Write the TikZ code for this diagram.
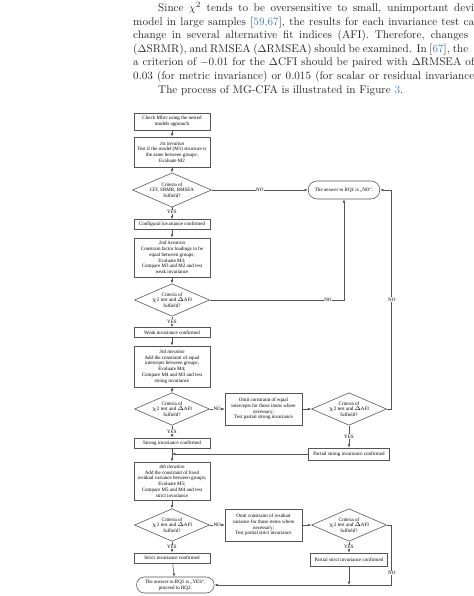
\documentclass[tikz,border=0pt]{standalone}
\usepackage{fontspec}
\usetikzlibrary{positioning,shapes.geometric,shapes.misc,arrows.meta}

\newfontfamily\flowrm{Liberation Serif}
\definecolor{citeblue}{RGB}{66,126,196}
\definecolor{flowgray}{RGB}{85,85,85}
\newcommand{\flowfont}{\flowrm\fontsize{4.3}{4.9}\selectfont}
\newcommand{\bodyfont}{\fontsize{9.5}{11}\selectfont}
\newcommand{\crittext}{Criteria of\\$\chi$2 test and $\Delta$AFI\\fulfield?}

\begin{document}
\begin{tikzpicture}[x=0.3mm, y=-0.3mm, ->, >={Latex[length=1mm,width=0.8mm]},
    flow box/.style={rectangle, draw=flowgray, line width=0.5pt, align=center, font=\flowfont, inner xsep=0.2mm, inner ysep=0.3mm, minimum width=22.8mm},
    check node/.style={diamond, draw=flowgray, line width=0.5pt, align=center, font=\flowfont, inner sep=0pt, aspect=2.3, minimum width=22.2mm, minimum height=9.6mm},
    answer node/.style={rounded rectangle, draw=flowgray, line width=0.5pt, align=center, font=\flowfont, inner sep=0.5mm, minimum width=22.5mm},
    choice/.style={font=\flowfont, fill=white, inner sep=0.4pt},
    body line/.style={anchor=base west, inner sep=0pt, font=\bodyfont, text=black!85},
    every edge/.append style={draw=flowgray, line width=0.5pt}]
  \clip (0,0) rectangle (474,596);
  \path[fill=white] (0,0) rectangle (474,596);

  % text above the figure
  \node[body line] (t1) at (158,12) {\hbox to 94.8mm{Since $\chi^2$ tends to be oversensitive to small, unimportant devi}};
  \node[body line] (t2) at (133,25.5) {\hbox to 102.3mm{model in large samples [\textcolor{citeblue}{59,67}], the results for each invariance test ca}};
  \node[body line] (t3) at (133,39) {\hbox to 100.5mm{change in several alternative fit indices (AFI). Therefore, changes}};
  \node[body line] (t4) at (133,52.5) {\hbox to 100.5mm{($\Delta$SRMR), and RMSEA ($\Delta$RMSEA) should be examined. In [\textcolor{citeblue}{67}], the}};
  \node[body line] (t5) at (133,66) {\hbox to 102.3mm{a criterion of $-$0.01 for the $\Delta$CFI should be paired with $\Delta$RMSEA of}};
  \node[body line] (t6) at (133,79.5) {\hbox to 102.3mm{0.03 (for metric invariance) or 0.015 (for scalar or residual invariance}};
  \node[body line] (t7) at (158,93) {\hbox to 73.5mm{The process of MG-CFA is illustrated in Figure \textcolor{citeblue}{3}.}};

  % main column
  \node[flow box, minimum height=5.1mm] (1) at (172,121.5) {Check MInv using the nested\\models approach};
  \node[flow box, minimum height=9mm] (2) [node distance=9.15mm, below of=1] {\textit{1st iteration}\\Test if the model (M1) structure is\\the same between groups;\\Evaluate M2};
  \node[check node] (3) [node distance=11.4mm, below of=2] {Criteria of\\CFI, SRMR, RMSEA\\fulfield?};
  \node[flow box, minimum height=3mm] (4) [node distance=10.35mm, below of=3] {Configural invariance confirmed};
  \node[flow box, minimum height=11.7mm] (5) [node distance=9.9mm, below of=4] {\textit{2nd iteration}\\Constrain factor loadings to be\\equal between groups;\\Evaluate M3;\\Compare M3 and M2 and test\\weak invariance};
  \node[check node] (6) [node distance=12.75mm, below of=5] {\crittext};
  \node[flow box, minimum height=3mm] (7) [node distance=9.75mm, below of=6] {Weak invariance confirmed};
  \node[flow box, minimum height=12.3mm] (8) [node distance=10.2mm, below of=7] {\textit{3rd iteration}\\Add the constraint of equal\\intercepts between groups;\\Evaluate M4;\\Compare M4 and M3 and test\\strong invariance};
  \node[check node] (9) [node distance=12.75mm, below of=8] {\crittext};
  \node[flow box, minimum height=3mm] (10) [node distance=10.2mm, below of=9] {Strong invariance confirmed};
  \node[flow box, minimum height=11.4mm] (11) [node distance=11.4mm, below of=10] {\textit{4th iteration}\\Add the constraint of fixed\\residual variance between groups;\\Evaluate M5;\\Compare M5 and M4 and test\\strict invariance};
  \node[check node] (12) [node distance=13.2mm, below of=11] {\crittext};
  \node[flow box, minimum height=3mm] (13) [node distance=9.9mm, below of=12] {Strict invariance confirmed};
  \node[answer node, minimum width=24.3mm, minimum height=4.8mm] (14) [node distance=8.1mm, below of=13, xshift=1mm] {The answer to RQ1 is „YES“,\\proceed to RQ2.};

  % right column
  \node[answer node, minimum height=5.4mm] (15) [node distance=51.6mm, right of=3] {The answer to RQ1 is „NO“.};
  \node[flow box, minimum width=23.1mm, minimum height=9.6mm] (16) [node distance=27.45mm, right of=9] {Omit constraint of equal\\intercepts for those items where\\necessary;\\Test partial strong invariance};
  \node[check node] (17) [node distance=25.65mm, right of=16] {\crittext};
  \node[flow box, minimum width=24.3mm, minimum height=3.6mm] (18) [node distance=13.5mm, below of=17] {Partial strong invariance confirmed};
  \node[flow box, minimum width=23.1mm, minimum height=9.6mm] (19) [node distance=27.45mm, right of=12] {Omit constraint of residual\\variance for those items where\\necessary;\\Test partial strict invariance};
  \node[check node] (20) [node distance=25.65mm, right of=19] {\crittext};
  \node[flow box, minimum width=23.1mm, minimum height=3.9mm] (21) [node distance=10.35mm, below of=20] {Partial strict invariance confirmed};

  \path
    (1) edge (2)
    (2) edge (3)
    (3) edge node[choice, pos=0.4] {YES} (4)
        edge node[choice] {NO} (15)
    (4) edge (5)
    (5) edge (6)
    (6) edge node[choice, pos=0.45] {YES} (7)
    (7) edge (8)
    (8) edge (9)
    (9) edge node[choice, pos=0.5] {YES} (10)
        edge node[choice] {NO} (16)
    (16) edge (17)
    (17) edge node[choice, pos=0.5] {YES} (18)
    (10) edge (11)
    (11) edge (12)
    (12) edge node[choice, pos=0.5] {YES} (13)
         edge node[choice] {NO} (19)
    (19) edge (20)
    (20) edge node[choice, pos=0.5] {YES} (21)
    (13) edge (14);

  \draw[draw=flowgray, line width=0.5pt] (6.east) -| node[choice, pos=0.44] {NO} (15.south);
  \draw[draw=flowgray, line width=0.5pt] (17.east) -- ++(5,0) |- node[choice, pos=0.25] {NO} (15.east);
  \draw[draw=flowgray, line width=0.5pt] (20.east) -- ++(5,0) |- node[choice, pos=0.4] {NO} (14.east);
  \coordinate (k) at (10 |- 18.west);
  \draw[draw=flowgray, line width=0.5pt] (18.west) -- (k);
  \coordinate (m) at (21.south |- 14.east);
  \draw[draw=flowgray, line width=0.5pt] (21.south) -- (m);
\end{tikzpicture}
\end{document}
